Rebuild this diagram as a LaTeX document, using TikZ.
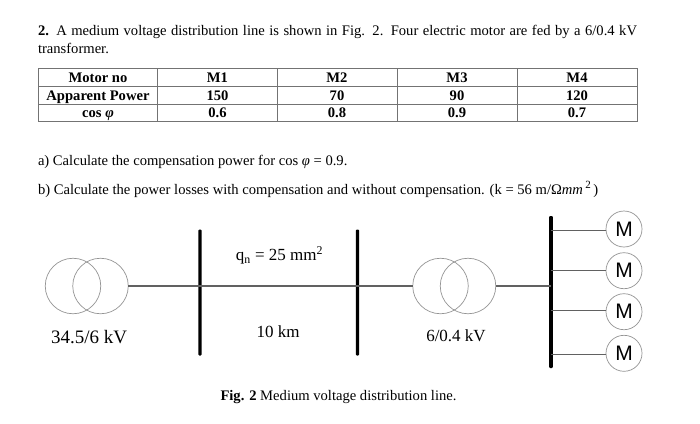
\documentclass[tikz,border=0pt]{standalone}
\usepackage{fontspec}
\setmainfont{Liberation Serif}
\newfontfamily\motorfont{Liberation Sans}
\newcommand{\bodysize}{\fontsize{14.6}{16}\selectfont}
\begin{document}
\begin{tikzpicture}[x=1pt,y=-1pt,
  txt/.style={inner sep=0pt,outer sep=0pt,font=\bodysize},
  cell/.style={txt,font=\bodysize\bfseries,anchor=base},
  xfmr/.style={circle,draw=black!42,line width=0.7pt,minimum size=55.5pt,inner sep=0pt,outer sep=0pt},
  motor/.style={circle,draw=black!42,line width=0.7pt,minimum size=36pt,inner sep=0pt,outer sep=0pt,font=\motorfont\fontsize{21}{23}\selectfont},
  bus/.style={fill=black,inner sep=0pt,outer sep=0pt,minimum width=3.2pt,rounded corners=1pt},
  feeder/.style={draw=black!62,line width=1.1pt},
  grid/.style={draw=black!55,line width=0.9pt}]
\useasboundingbox (0,0) rectangle (700,423);
\fill[white] (0,0) rectangle (700,423);
% problem text
\node[txt,anchor=base west] (l1) at (38,35) {\makebox[599pt][s]{\textbf{2.} A medium voltage distribution line is shown in Fig. 2. Four electric motor are fed by a 6/0.4 kV}};
\node[txt,anchor=base west] (l2) at (38,53) {transformer.};
% table
\draw[grid] (38,68.5) rectangle (637,121.5);
\draw[grid] (38,86) -- (637,86) (38,104) -- (637,104);
\draw[grid] (157.5,68.5) -- (157.5,121.5) (277,68.5) -- (277,121.5) (397,68.5) -- (397,121.5) (517,68.5) -- (517,121.5);
\node[cell] (a0) at (98,82) {Motor no};
\node[cell] (b0) at (98,100) {Apparent Power};
\node[cell] (c0) at (98,117.5) {cos \textit{φ}};
\node[cell] (a1) at (217.5,82) {M1};
\node[cell] (b1) at (217.5,100) {150};
\node[cell] (c1) at (217.5,117.5) {0.6};
\node[cell] (a2) at (337,82) {M2};
\node[cell] (b2) at (337,100) {70};
\node[cell] (c2) at (337,117.5) {0.8};
\node[cell] (a3) at (457,82) {M3};
\node[cell] (b3) at (457,100) {90};
\node[cell] (c3) at (457,117.5) {0.9};
\node[cell] (a4) at (577,82) {M4};
\node[cell] (b4) at (577,100) {120};
\node[cell] (c4) at (577,117.5) {0.7};
% questions
\node[txt,anchor=base west] (qa) at (38,165) {a) Calculate the compensation power for cos \textit{φ} = 0.9.};
\node[txt,anchor=base west] (qb) at (38,194) {b) Calculate the power losses with compensation and without compensation. (k = 56 m/Ω\textit{mm}\,\raisebox{5.5pt}{\fontsize{11}{11}\selectfont 2}\,)};
% diagram
\node[xfmr] (t1a) at (73,286) {};
\node[xfmr] (t1b) at (100.5,286) {};
\node[xfmr] (t2a) at (440.5,286) {};
\node[xfmr] (t2b) at (468,286) {};
\node[bus,minimum height=126pt] (b1bus) at (200,292.5) {};
\node[bus,minimum height=126pt] (b2bus) at (357.5,292.5) {};
\node[bus,minimum height=152pt,minimum width=3.6pt] (b3bus) at (551,292) {};
\node[motor] (m1) at (624,229) {M};
\node[motor] (m2) at (624,270.7) {M};
\node[motor] (m3) at (624,311.7) {M};
\node[motor] (m4) at (624,353.3) {M};
\draw[feeder] (t1b.east) -- (t1b.east -| b1bus.center);
\draw[feeder] (t1b.east -| b1bus.center) -- (t1b.east -| b2bus.center);
\draw[feeder] (t2a.west -| b2bus.center) -- (t2a.west);
\draw[feeder] (t2b.east) -- (t2b.east -| b3bus.center);
\draw[feeder] (m1.185) -- (m1.185 -| b3bus.center);
\draw[feeder] (m2.west) -- (m2.west -| b3bus.center);
\draw[feeder] (m3.175) -- (m3.175 -| b3bus.center);
\draw[feeder] (m4.185) -- (m4.185 -| b3bus.center);
% labels
\node[txt,anchor=base,font=\fontsize{19}{21}\selectfont] (v1) at (89,343.5) {34.5/6 kV};
\node[txt,anchor=base,font=\fontsize{17}{19}\selectfont] (qn) at (279.5,260.5) {q\textsubscript{n} = 25 mm\textsuperscript{2}};
\node[txt,anchor=base,font=\fontsize{17}{19}\selectfont] (km) at (278,337) {10 km};
\node[txt,anchor=base,font=\fontsize{17}{19}\selectfont] (v2) at (456,341.5) {6/0.4 kV};
\node[txt,anchor=base west] (cap) at (220.5,400) {\textbf{Fig. 2} Medium voltage distribution line.};
\end{tikzpicture}
\end{document}
